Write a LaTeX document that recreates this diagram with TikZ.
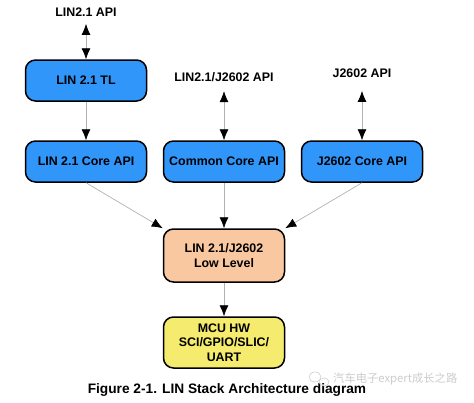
\documentclass[tikz,border=0pt]{standalone}
\usepackage{fontspec}
\setmainfont{Liberation Sans}
\newfontfamily\cjk{Noto Sans CJK SC}
\usetikzlibrary{arrows.meta}
\definecolor{apiblue}{RGB}{48,150,250}
\definecolor{lowpeach}{RGB}{250,200,160}
\definecolor{hwyellow}{RGB}{245,235,110}
\tikzset{
  box/.style={draw=black, line width=1.5pt, rounded corners=10pt, minimum width=121pt,
    minimum height=41pt, align=center, font=\bfseries\fontsize{12.4}{14.5}\selectfont},
  api/.style={font=\bfseries\fontsize{12.4}{14.5}\selectfont},
  tip/.tip={Latex[black,length=11pt,width=9pt]},
  link/.style={draw=gray!60, line width=0.7pt, -tip},
  both/.style={link, tip-tip}
}
\begin{document}
\begin{tikzpicture}[x=1pt,y=-1pt]
  \useasboundingbox (0,0) rectangle (474,402);

  % the API labels
  \node[api] (api1) at (86,12) {LIN2.1 API};
  \node[api] (api2) at (224,77) {LIN2.1/J2602 API};
  \node[api] (api3) at (362,73) {J2602 API};

  % the boxes
  \node[box, fill=apiblue] (tl) at (86,80.5) {LIN 2.1 TL};
  \node[box, fill=apiblue] (core1) at (86,161.5) {LIN 2.1 Core API};
  \node[box, fill=apiblue] (core2) at (224,161.5) {Common Core API};
  \node[box, fill=apiblue] (core3) at (362,161.5) {J2602 Core API};
  \node[box, fill=lowpeach, minimum height=53pt] (low) at (224,255.5) {LIN 2.1/J2602\\Low Level};
  \node[box, fill=hwyellow, minimum height=51pt] (hw) at (224,342.5) {MCU HW\\SCI/GPIO/SLIC/\\UART};

  % the arrows
  \draw[both, shorten <=4pt] (api1) -- (tl);
  \draw[both, shorten <=6pt] (api2) -- (core2);
  \draw[both, shorten <=10pt] (api3) -- (core3);
  \draw[link] (tl) -- (core1);
  \draw[link] (core1.south) -- (low.north west);
  \draw[link] (core2) -- (low);
  \draw[link] (core3.south) -- (low.north east);
  \draw[link] (low) -- (hw);

  % caption and mark
  \node[font=\bfseries\fontsize{13.7}{16}\selectfont] (cap) at (227,390) {Figure 2-1. LIN Stack Architecture diagram};
  \node[text=gray!40, font=\cjk\fontsize{11.3}{13}\selectfont, anchor=west, inner sep=0pt] (mark) at (333,379) {汽车电子expert成长之路};
  \draw[gray!40, line width=0.6pt] (315,377) ellipse (6pt and 5pt);
  \draw[gray!40, line width=0.6pt] (324,382) ellipse (5pt and 4pt);
\end{tikzpicture}
\end{document}
